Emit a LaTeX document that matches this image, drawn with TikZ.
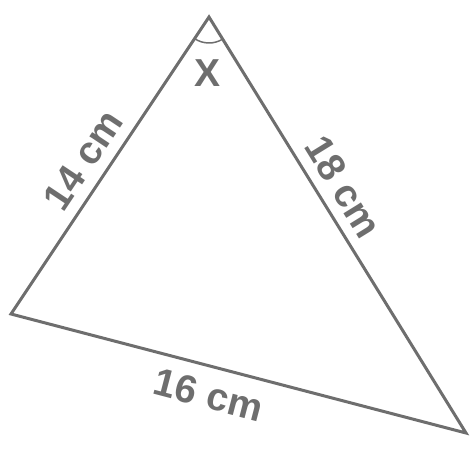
\documentclass[tikz,border=0pt]{standalone}
\usepackage{fontspec}
\setmainfont{Liberation Sans}
\usepackage{tikz}
\usetikzlibrary{positioning,calc}
\definecolor{trigray}{HTML}{6E6E6E}
\tikzstyle{sidelabel}=[sloped,inner sep=0pt,text=trigray,font=\fontsize{39}{42}\selectfont\bfseries]
\tikzstyle{side}=[draw=trigray,line width=3pt,line join=miter]

\begin{document}
\begin{tikzpicture}[x=1pt,y=1pt]
\useasboundingbox (0,0) rectangle (474,453);
\coordinate (top) at (209,436);
\coordinate (left) at (11,139);
\coordinate (right) at (466,20);
\draw [side] (left) -- node [sidelabel,pos=0.47,above=10pt] {14 cm} (top)
  -- node [sidelabel,pos=0.44,above=10pt] {18 cm} (right)
  -- node [sidelabel,pos=0.55,below=13pt] {16 cm} (left) -- cycle;
% angle mark at the top
\draw [trigray,line width=1.5pt] (top) ++(236.3:26) arc [start angle=236.3,end angle=301.7,radius=26];
\node (angx) at (208,380) [text=trigray,font=\fontsize{39}{42}\selectfont\bfseries] {X};
\end{tikzpicture}
\end{document}
